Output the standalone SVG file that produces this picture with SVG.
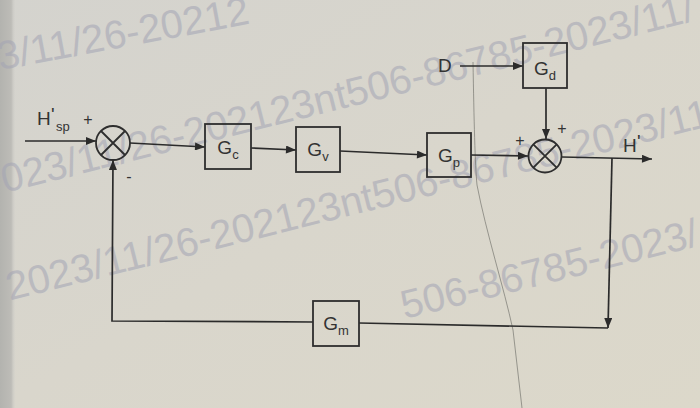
<svg xmlns="http://www.w3.org/2000/svg" width="700" height="408" viewBox="0 0 700 408">
  <defs>
    <linearGradient id="bg" x1="0" y1="0" x2="1" y2="1">
      <stop offset="0" stop-color="#d4d3ce"/>
      <stop offset="0.5" stop-color="#d9d6cc"/>
      <stop offset="1" stop-color="#dcd8ca"/>
    </linearGradient>
    <linearGradient id="edge" x1="0" y1="0" x2="1" y2="0">
      <stop offset="0" stop-color="#b3b3af"/>
      <stop offset="0.7" stop-color="#bdbcb7"/>
      <stop offset="1" stop-color="#d4d3ce" stop-opacity="0"/>
    </linearGradient>
    <marker id="arr" viewBox="0 0 10 8" refX="10" refY="4" markerWidth="11" markerHeight="8" orient="auto" markerUnits="userSpaceOnUse">
      <path d="M0,0 L10,4 L0,8 z" fill="#2b2b2b"/>
    </marker>
    <style>
      .wm { font-family: "Liberation Sans", Arial, sans-serif; font-size: 40px; fill: #a3a4b4; opacity: 0.55; }
      .blk { fill: none; stroke: #2e2e2e; stroke-width: 1.8; }
      .sum { fill: none; stroke: #2e2e2e; stroke-width: 1.8; }
      .ln { fill: none; stroke: #2b2b2b; stroke-width: 1.7; }
      .lbl { font-family: "Liberation Sans", Arial, sans-serif; font-size: 19px; fill: #333; }
      .sub { font-size: 13px; }
      .sgn { font-family: "Liberation Sans", Arial, sans-serif; font-size: 16px; fill: #333; }
    </style>
  </defs>

  <rect width="700" height="408" fill="url(#bg)"/>
  <rect x="0" y="0" width="16" height="408" fill="url(#edge)"/>

  <g id="watermark">
    <text class="wm" transform="translate(0,70) rotate(-10.5)" x="0">3/11/26-20212</text>
    <text class="wm" transform="translate(0,194) rotate(-14)" x="5">023/11/26-202123nt506-86785-2023/11/</text>
    <text class="wm" transform="translate(0,303) rotate(-14)" x="10" opacity="0.45">2023/11/26-202123nt506-86785-2023/11</text>
    <text class="wm" transform="translate(0,420) rotate(-14)" x="417" opacity="0.4">506-86785-2023/</text>
  </g>

  <path id="crease" d="M473,62 C474,120 475,165 477,185 C486,232 504,288 513,330 L522,408" fill="none" stroke="#6d6c66" stroke-width="0.9" opacity="0.7"/>

  <g id="connectors">
    <path class="ln" d="M25,141 L96,141" marker-end="url(#arr)"/>
    <path class="ln" d="M130,143 L205,147" marker-end="url(#arr)"/>
    <path class="ln" d="M251,148 L296,150" marker-end="url(#arr)"/>
    <path class="ln" d="M340,151 L427,155" marker-end="url(#arr)"/>
    <path class="ln" d="M471,155 L528,156" marker-end="url(#arr)"/>
    <path class="ln" d="M460,66 L523,66" marker-end="url(#arr)"/>
    <path class="ln" d="M546,88 L546,139" marker-end="url(#arr)"/>
    <path class="ln" d="M562,157 L652,159" marker-end="url(#arr)"/>
    <path class="ln" d="M612,158 L608,328" marker-end="url(#arr)"/>
    <path class="ln" d="M608,328 L359,323"/>
    <path class="ln" d="M313,322 L112,321 L113,160" marker-end="url(#arr)"/>
  </g>

  <g id="sum1">
    <circle class="sum" cx="113" cy="143" r="17"/>
    <path class="sum" d="M101,131 L125,155 M125,131 L101,155"/>
  </g>

  <g id="Gc">
    <rect class="blk" x="205" y="124" width="46" height="45"/>
    <text class="lbl" x="228" y="154" text-anchor="middle">G<tspan class="sub" dy="5">c</tspan></text>
  </g>

  <g id="Gv">
    <rect class="blk" x="296" y="127" width="44" height="45"/>
    <text class="lbl" x="318" y="156" text-anchor="middle">G<tspan class="sub" dy="5">v</tspan></text>
  </g>

  <g id="Gp">
    <rect class="blk" x="427" y="133" width="44" height="44"/>
    <text class="lbl" x="449" y="162" text-anchor="middle">G<tspan class="sub" dy="5">p</tspan></text>
  </g>

  <g id="Gd">
    <rect class="blk" x="523" y="43" width="44" height="45"/>
    <text class="lbl" x="545" y="75" text-anchor="middle">G<tspan class="sub" dy="5">d</tspan></text>
  </g>

  <g id="sum2">
    <circle class="sum" cx="545" cy="156" r="16.5"/>
    <path class="sum" d="M533.3,144.3 L556.7,167.7 M556.7,144.3 L533.3,167.7"/>
  </g>

  <g id="Gm">
    <rect class="blk" x="313" y="301" width="46" height="45"/>
    <text class="lbl" x="336" y="330" text-anchor="middle">G<tspan class="sub" dy="5">m</tspan></text>
  </g>

  <g id="labels">
    <text class="lbl" x="37" y="125">H</text>
    <text class="lbl" x="51" y="121" font-size="12">'</text>
    <text class="lbl sub" x="56" y="131">sp</text>
    <text class="sgn" x="88" y="125" text-anchor="middle">+</text>
    <text class="sgn" x="129" y="182" text-anchor="middle">-</text>
    <text class="lbl" x="438" y="72">D</text>
    <text class="sgn" x="520" y="146" text-anchor="middle">+</text>
    <text class="sgn" x="562" y="134" text-anchor="middle">+</text>
    <text class="lbl" x="623" y="152">H</text>
    <text class="lbl" x="637" y="148" font-size="12">'</text>
  </g>
</svg>
